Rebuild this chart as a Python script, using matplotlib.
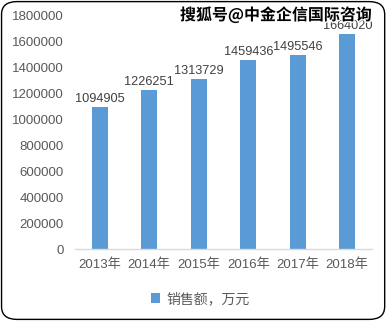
import numpy as np
import matplotlib
matplotlib.use('Agg')
import matplotlib.pyplot as plt
from matplotlib.patches import FancyBboxPatch
import matplotlib.patheffects as pe

plt.rcParams['font.family'] = ['Liberation Sans', 'Noto Sans CJK SC']

# data
years = ['2013年', '2014年', '2015年', '2016年', '2017年', '2018年']
sales = [1094905, 1226251, 1313729, 1459436, 1495546, 1664020]
yticks = [0, 200000, 400000, 600000, 800000, 1000000, 1200000,
          1400000, 1600000, 1800000]
series_name = '销售额，万元'
watermark = '搜狐号@中金企信国际咨询'

bar_color = '#5B9BD5'
text_color = '#595959'

fig = plt.figure(figsize=(3.87, 3.21), dpi=100)
ax = fig.add_axes([75/387, 72/321, 297/387, 233/321])

x = np.arange(len(years))
bars = ax.bar(x, sales, width=0.33, color=bar_color, label=series_name, zorder=2)

for xi, v in zip(x, sales):
    ax.text(xi, v + 15000, str(v), ha='center', va='bottom',
            fontsize=9.2, color='#404040', zorder=3)

ax.set_xlim(-0.5, len(years) - 0.5)
ax.set_ylim(0, 1800000)
ax.set_yticks(yticks)
ax.set_yticklabels([str(t) for t in yticks])
ax.set_xticks(x)
ax.set_xticklabels(years)
ax.tick_params(axis='both', length=0, labelsize=9.5, colors=text_color)
ax.tick_params(axis='x', pad=7)
ax.tick_params(axis='y', pad=8)

for s in ['top', 'right', 'left']:
    ax.spines[s].set_visible(False)
ax.spines['bottom'].set_color('#D9D9D9')
ax.spines['bottom'].set_linewidth(1.0)

leg = fig.legend(handles=[bars], labels=[series_name], loc='center',
                 bbox_to_anchor=(200/387, 1 - 299/321), frameon=False,
                 fontsize=10, handlelength=0.7, handleheight=0.7,
                 handletextpad=0.4)
for t in leg.get_texts():
    t.set_color(text_color)

fig.text(372/387, 1 - 15/321, watermark, ha='right', va='center',
         fontsize=11.5, fontweight='bold', color='black',
         family=['Noto Sans CJK SC', 'DejaVu Sans'],
         path_effects=[pe.withStroke(linewidth=2, foreground='white')],
         zorder=5)

border = FancyBboxPatch((0.004, 0.005), 0.99, 0.99,
                        boxstyle='round,pad=0,rounding_size=0.04',
                        transform=fig.transFigure, facecolor='none',
                        edgecolor='black', linewidth=1.0)
fig.patches.append(border)

fig.savefig('out.png', dpi=100)
